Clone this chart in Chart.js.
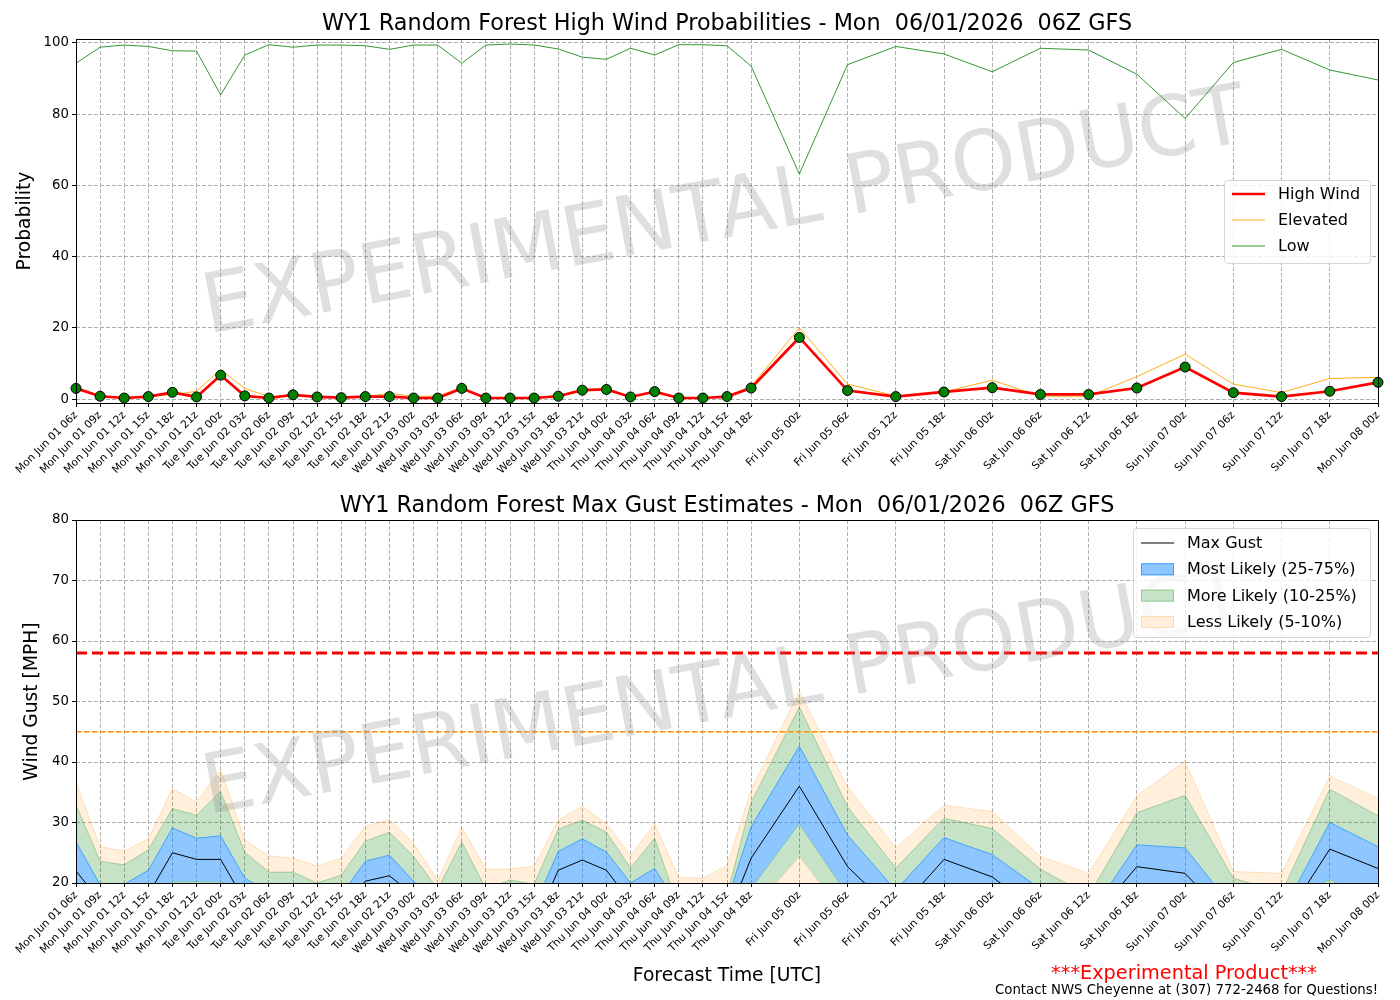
<!DOCTYPE html>
<html>
<head>
<meta charset="utf-8">
<script src="https://cdn.jsdelivr.net/npm/chart.js@4.4.0/dist/chart.umd.min.js"></script>
<style>
  body { margin: 0; background: #fff; font-family: 'DejaVu Sans', sans-serif; }
  #page { position: relative; width: 1400px; height: 1000px; overflow: hidden; }
  .panel { position: absolute; left: 0; width: 1400px; }
  #topPanel { top: 0; height: 492px; }
  #bottomPanel { top: 490px; height: 510px; }
  #expNote { position: absolute; left: 1034px; width: 300px; top: 962px; line-height: 22px; text-align: center; color: red; font-size: 19.3px; white-space: nowrap; }
  #contact { position: absolute; right: 22px; top: 981px; line-height: 17px; font-size: 13.3px; color: #000; white-space: nowrap; }
</style>
</head>
<body>
<div id="page">
  <div class="panel" id="topPanel"><canvas id="probChart"></canvas></div>
  <div class="panel" id="bottomPanel"><canvas id="gustChart"></canvas></div>
  <div id="expNote">***Experimental Product***</div>
  <div id="contact">Contact NWS Cheyenne at (307) 772-2468 for Questions!</div>
</div>
<script>
// forecast hours since Mon Jun 01 06z and their labels
const forecastHours = [0, 3, 6, 9, 12, 15, 18, 21, 24, 27, 30, 33, 36, 39, 42, 45, 48, 51, 54, 57, 60, 63, 66, 69, 72, 75, 78, 81, 84,
  90, 96, 102, 108, 114, 120, 126, 132, 138, 144, 150, 156, 162];
const timeLabels = [
  "Mon Jun 01 06z", "Mon Jun 01 09z", "Mon Jun 01 12z", "Mon Jun 01 15z", "Mon Jun 01 18z", "Mon Jun 01 21z",
  "Tue Jun 02 00z", "Tue Jun 02 03z", "Tue Jun 02 06z", "Tue Jun 02 09z", "Tue Jun 02 12z", "Tue Jun 02 15z",
  "Tue Jun 02 18z", "Tue Jun 02 21z", "Wed Jun 03 00z", "Wed Jun 03 03z", "Wed Jun 03 06z", "Wed Jun 03 09z",
  "Wed Jun 03 12z", "Wed Jun 03 15z", "Wed Jun 03 18z", "Wed Jun 03 21z", "Thu Jun 04 00z", "Thu Jun 04 03z",
  "Thu Jun 04 06z", "Thu Jun 04 09z", "Thu Jun 04 12z", "Thu Jun 04 15z", "Thu Jun 04 18z", "Fri Jun 05 00z",
  "Fri Jun 05 06z", "Fri Jun 05 12z", "Fri Jun 05 18z", "Sat Jun 06 00z", "Sat Jun 06 06z", "Sat Jun 06 12z",
  "Sat Jun 06 18z", "Sun Jun 07 00z", "Sun Jun 07 06z", "Sun Jun 07 12z", "Sun Jun 07 18z", "Mon Jun 08 00z"
];

// probabilities (%)
const highWind = [3.0, 0.8, 0.3, 0.7, 1.9, 0.6, 6.7, 0.9, 0.3, 1.2, 0.6, 0.4, 0.7, 0.7, 0.3, 0.3, 3.0,
  0.3, 0.3, 0.3, 0.8, 2.5, 2.7, 0.6, 2.1, 0.3, 0.3, 0.7, 3.1,
  17.3, 2.4, 0.7, 2.0, 3.2, 1.3, 1.3, 3.1, 9.0, 1.8, 0.7, 2.2, 4.7];
const elevated = [3.4, 0.9, 0.4, 0.8, 1.2, 2.2, 8.3, 3.0, 0.7, 1.2, 0.6, 0.4, 0.7, 1.6, 0.8, 0.8, 3.3,
  0.4, 0.4, 0.4, 1.0, 2.7, 2.9, 0.7, 2.2, 0.4, 0.4, 0.8, 3.6,
  20.0, 4.2, 0.9, 2.0, 5.3, 0.8, 0.8, 6.3, 12.6, 4.2, 1.8, 5.8, 6.1];
const low = [94.3, 98.8, 99.4, 99.0, 97.8, 97.7, 85.4, 96.6, 99.5, 98.8, 99.4, 99.4, 99.2, 98.2, 99.4, 99.4, 94.3,
  99.4, 99.7, 99.4, 98.3, 96.0, 95.4, 98.5, 96.6, 99.5, 99.5, 99.2, 93.5,
  63.2, 93.9, 99.0, 96.9, 91.9, 98.5, 98.0, 91.2, 78.8, 94.5, 98.2, 92.4, 89.6];

// gust estimates (mph)
const maxGust = [22.0, 17, 16, 18.1, 25.0, 23.9, 23.9, 17, 16, 15, 15, 16, 20.3, 21.2, 18, 14, 16,
  14, 14, 13, 22.1, 23.8, 22.1, 16.9, 17, 14, 14, 14.1, 24.1,
  36.0, 22.7, 15, 23.9, 21.0, 15, 13.3, 22.7, 21.6, 13.2, 13.2, 25.6, 22.4];
const gust05 = [12, 9, 8, 10, 13, 13, 13, 10, 8, 7, 7, 8, 11, 12, 10, 7, 8,
  7, 7, 6, 12, 13, 12, 9, 10, 6, 6, 6, 12,
  17, 11, 8, 12, 11, 8, 6, 11, 11, 7, 7, 14, 12];
const gust10 = [15, 11, 10, 12, 16, 16, 16, 12, 10, 9, 9, 10, 14, 15, 12, 9, 10,
  9, 9, 8, 15, 16, 15, 11, 12, 8, 8, 8, 15.2,
  24.4, 14, 10, 15, 14, 10, 8, 14, 14, 9, 9, 17, 15];
const gust25 = [19, 14, 13, 15, 20.2, 20.2, 20.2, 15, 13, 12, 12, 13, 17, 18, 15, 12, 13,
  12, 12, 11, 18, 19.5, 18, 14, 15, 11, 11, 11, 19.1,
  29.8, 18, 13, 18, 17, 13, 11, 17, 17, 12, 16, 20.6, 16.5];
const gust75 = [26.8, 19.7, 19.8, 22.1, 29.1, 27.4, 27.8, 20.8, 18.5, 18.0, 17.5, 18.0, 23.6, 24.6, 20.3, 16.0, 18.5,
  16.0, 16.0, 16.0, 25.2, 27.3, 25.1, 20.0, 22.4, 16.0, 16.0, 17.0, 29.3,
  42.6, 27.9, 18.8, 27.5, 24.7, 19.0, 14.5, 26.3, 25.8, 15.8, 14.9, 30.0, 26.0];
const gust90 = [32.9, 23.6, 23.0, 25.5, 32.3, 31.2, 35.1, 25.1, 21.8, 21.8, 20.0, 21.3, 26.9, 28.4, 24.4, 19.0, 26.8,
  19.0, 20.5, 19.8, 28.9, 30.4, 28.4, 22.5, 27.4, 16.0, 16.5, 18.0, 33.3,
  49.1, 32.6, 22.5, 30.7, 29.0, 22.3, 17.9, 31.6, 34.5, 20.8, 18.4, 35.5, 31.1];
const gust95 = [36.6, 26.0, 25.3, 27.3, 35.6, 33.4, 38.8, 27.1, 24.5, 24.1, 22.8, 24.1, 29.4, 30.5, 26.6, 20.4, 29.2,
  22.3, 22.3, 22.8, 30.4, 32.7, 29.8, 24.6, 29.8, 20.9, 20.8, 22.9, 35.4,
  51.7, 35.9, 25.8, 32.9, 31.8, 24.4, 21.6, 34.4, 40.2, 21.9, 21.6, 37.7, 34.0];

// thresholds (mph)
const highWindGust = 58;
const elevatedGust = 45;

const topTitle = "WY1 Random Forest High Wind Probabilities - Mon  06/01/2026  06Z GFS";
const bottomTitle = "WY1 Random Forest Max Gust Estimates - Mon  06/01/2026  06Z GFS";

Chart.defaults.font.family = "'DejaVu Sans', sans-serif";
Chart.defaults.color = "#000";

const gridColor = "rgba(150, 150, 150, 0.75)";

function pts(arr) {
  return arr.map((v, i) => ({ x: forecastHours[i], y: v }));
}

// frame around the plot area
const frame = {
  id: "frame",
  afterDatasetsDraw(chart) {
    const { ctx, chartArea: a } = chart;
    ctx.save();
    ctx.strokeStyle = "#000";
    ctx.lineWidth = 1;
    ctx.strokeRect(Math.round(a.left) + 0.5, Math.round(a.top) + 0.5,
      Math.round(a.right - a.left), Math.round(a.bottom - a.top));
    ctx.restore();
  },
};

// title centred over the plot area, like matplotlib's ax.set_title
const axesTitle = {
  id: "axesTitle",
  afterDraw(chart, args, opts) {
    const { ctx, chartArea: a } = chart;
    ctx.save();
    ctx.font = "22.3px 'DejaVu Sans'";
    ctx.fillStyle = "#000";
    ctx.textAlign = "center";
    ctx.textBaseline = "middle";
    ctx.fillText(opts.text, (a.left + a.right) / 2, opts.y);
    ctx.restore();
  },
};

// "EXPERIMENTAL PRODUCT" stamp
const watermark = {
  id: "watermark",
  afterDatasetsDraw(chart) {
    const { ctx, chartArea: a } = chart;
    ctx.save();
    ctx.translate((a.left + a.right) / 2 - 2, (a.top + a.bottom) / 2 - 5);
    ctx.rotate((-10.5 * Math.PI) / 180);
    ctx.font = "83px 'DejaVu Sans'";
    ctx.fillStyle = "rgba(128, 128, 128, 0.25)";
    ctx.textAlign = "center";
    ctx.textBaseline = "middle";
    ctx.fillText("EXPERIMENTAL PRODUCT", 0, 0);
    ctx.restore();
  },
};

// matplotlib style legend box
const boxLegend = {
  id: "boxLegend",
  afterDraw(chart, args, opts) {
    const ctx = chart.ctx;
    const items = chart.data.datasets.filter((d) => d.legendKind);
    ctx.save();
    ctx.beginPath();
    ctx.roundRect(opts.x + 0.5, opts.y + 0.5, opts.w, opts.h, 3);
    ctx.fillStyle = "rgba(255, 255, 255, 0.8)";
    ctx.fill();
    ctx.strokeStyle = "#d6d6d6";
    ctx.lineWidth = 1;
    ctx.stroke();
    ctx.font = "16px 'DejaVu Sans'";
    ctx.textBaseline = "middle";
    items.forEach((d, i) => {
      const cy = opts.y + opts.first + i * opts.rowH;
      const x0 = opts.x + 8;
      if (d.legendKind === "line") {
        ctx.beginPath();
        ctx.moveTo(x0, cy);
        ctx.lineTo(x0 + 33, cy);
        ctx.strokeStyle = d.borderColor;
        ctx.lineWidth = d.borderWidth;
        ctx.stroke();
      } else {
        ctx.fillStyle = "#fff";
        ctx.fillRect(x0, cy - 6, 33, 12);
        ctx.fillStyle = d.legendFill;
        ctx.fillRect(x0, cy - 6, 33, 12);
        ctx.strokeStyle = d.legendEdge;
        ctx.lineWidth = 1;
        ctx.strokeRect(x0 + 0.5, cy - 5.5, 32, 11);
      }
      ctx.fillStyle = "#000";
      ctx.fillText(d.label, opts.x + 54, cy + 1);
    });
    ctx.restore();
  },
};

function timeAxis(height, title) {
  return {
    type: "linear",
    min: forecastHours[0],
    max: forecastHours[forecastHours.length - 1],
    afterBuildTicks: (scale) => {
      scale.ticks = forecastHours.map((h) => ({ value: h }));
    },
    afterFit: (scale) => {
      scale.height = height;
    },
    ticks: {
      autoSkip: false,
      minRotation: 45,
      maxRotation: 45,
      padding: 2,
      font: { size: 10.7 },
      callback: (value, i) => timeLabels[i],
    },
    grid: { color: gridColor, lineWidth: 1, tickColor: "#000", tickLength: 4 },
    border: { display: false, dash: [4, 2] },
    title: title
      ? { display: true, text: title, font: { size: 18.7 }, padding: { top: 0, bottom: 13 } }
      : { display: false },
  };
}

function valueAxis(min, max, step, title, titlePad) {
  return {
    min: min,
    max: max,
    afterFit: (scale) => {
      scale.width = 76;
    },
    ticks: { stepSize: step, includeBounds: false, padding: 3, font: { size: 13.3 } },
    grid: { color: gridColor, lineWidth: 1, tickColor: "#000", tickLength: 4 },
    border: { display: false, dash: [4, 2] },
    title: { display: true, text: title, font: { size: 18.7 }, padding: { top: titlePad, bottom: 0 } },
  };
}

new Chart(document.getElementById("probChart"), {
  type: "line",
  data: {
    datasets: [
      {
        label: "High Wind",
        data: pts(highWind),
        borderColor: "red",
        borderWidth: 2.7,
        pointRadius: 5,
        pointBackgroundColor: "green",
        pointBorderColor: "#000",
        pointBorderWidth: 1,
        legendKind: "line",
        order: 0,
        clip: 10,
      },
      {
        label: "Elevated",
        data: pts(elevated),
        borderColor: "orange",
        borderWidth: 0.9,
        pointRadius: 0,
        legendKind: "line",
        order: 1,
        clip: 10,
      },
      {
        label: "Low",
        data: pts(low),
        borderColor: "rgb(30, 140, 30)",
        borderWidth: 0.9,
        pointRadius: 0,
        legendKind: "line",
        order: 2,
        clip: 10,
      },
    ],
  },
  options: {
    responsive: true,
    maintainAspectRatio: false,
    animation: false,
    devicePixelRatio: 1,
    layout: { padding: { left: 0, right: 22, top: 39, bottom: 0 } },
    elements: { line: { tension: 0 } },
    scales: {
      x: timeAxis(89, null),
      y: valueAxis(-1.1, 101.1, 20, "Probability", 14),
    },
    plugins: {
      legend: { display: false },
      tooltip: { enabled: false },
      title: { display: false },
      axesTitle: { text: topTitle, y: 24.5 },
      boxLegend: { x: 1224, y: 180, w: 146, h: 83, first: 14, rowH: 26 },
    },
  },
  plugins: [watermark, frame, axesTitle, boxLegend],
});

const blueFill = "rgba(30, 144, 255, 0.5)";
const blueEdge = "rgba(30, 144, 255, 0.75)";
const greenFill = "rgba(0, 128, 0, 0.22)";
const greenEdge = "rgba(0, 128, 0, 0.28)";
const orangeFill = "rgba(255, 140, 0, 0.14)";
const orangeEdge = "rgba(255, 140, 0, 0.22)";

function band(label, arr, target, fill, edge) {
  return {
    label: label,
    data: pts(arr),
    borderColor: edge,
    borderWidth: 1,
    backgroundColor: fill,
    pointRadius: 0,
    fill: target === null ? false : target,
    order: 5,
  };
}

new Chart(document.getElementById("gustChart"), {
  type: "line",
  data: {
    datasets: [
      {
        label: "Max Gust",
        data: pts(maxGust),
        borderColor: "#000",
        borderWidth: 1,
        pointRadius: 0,
        legendKind: "line",
        order: 1,
      },
      Object.assign(band("Most Likely (25-75%)", gust75, 6, blueFill, blueEdge), {
        legendKind: "patch", legendFill: blueFill, legendEdge: blueEdge,
      }),
      Object.assign(band("More Likely (10-25%)", gust90, 1, greenFill, greenEdge), {
        legendKind: "patch", legendFill: greenFill, legendEdge: greenEdge,
      }),
      Object.assign(band("Less Likely (5-10%)", gust95, 2, orangeFill, orangeEdge), {
        legendKind: "patch", legendFill: orangeFill, legendEdge: orangeEdge,
      }),
      band("p05", gust05, null, orangeFill, "rgba(0,0,0,0)"),
      band("p10", gust10, 4, orangeFill, orangeEdge),
      band("p25", gust25, 5, greenFill, greenEdge),
      {
        label: "High Wind threshold",
        data: forecastHours.map((h) => ({ x: h, y: highWindGust })),
        borderColor: "red",
        borderWidth: 3,
        borderDash: [11, 5],
        pointRadius: 0,
        order: 0,
      },
      {
        label: "Elevated threshold",
        data: forecastHours.map((h) => ({ x: h, y: elevatedGust })),
        borderColor: "darkorange",
        borderWidth: 1.4,
        borderDash: [5.5, 2.5],
        pointRadius: 0,
        order: 0,
      },
    ],
  },
  options: {
    responsive: true,
    maintainAspectRatio: false,
    animation: false,
    devicePixelRatio: 1,
    layout: { padding: { left: 0, right: 22, top: 30, bottom: 0 } },
    elements: { line: { tension: 0 } },
    scales: {
      x: timeAxis(117, "Forecast Time [UTC]"),
      y: valueAxis(20, 80, 10, "Wind Gust [MPH]", 21),
    },
    plugins: {
      legend: { display: false },
      tooltip: { enabled: false },
      filler: { propagate: false },
      title: { display: false },
      axesTitle: { text: bottomTitle, y: 16.5 },
      boxLegend: { x: 1133, y: 38, w: 237, h: 109, first: 15, rowH: 26.3 },
    },
  },
  plugins: [watermark, frame, axesTitle, boxLegend],
});
</script>
</body>
</html>
